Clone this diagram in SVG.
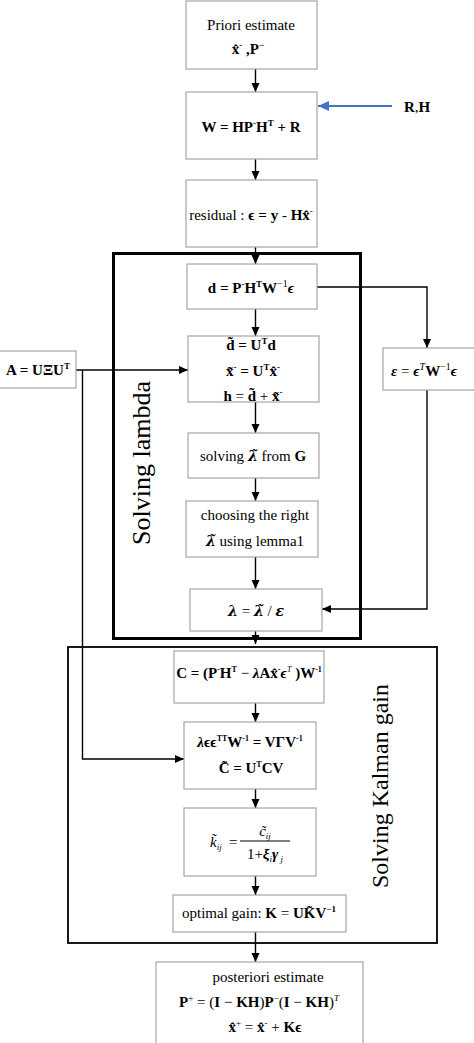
<svg xmlns="http://www.w3.org/2000/svg" width="474" height="1043" viewBox="0 0 474 1043">
<style>
.bx{fill:#fff;stroke:#a6a6a6;stroke-width:1.2}
.t{font-family:"Liberation Serif","DejaVu Serif",serif;font-size:15px;fill:#000}
.b{font-weight:bold}
.i{font-style:italic}
.m{text-anchor:middle}
.c{fill:none;stroke:#000;stroke-width:1.4}
.big{font-family:"Liberation Serif","DejaVu Serif",serif;fill:#000}
.dv{font-family:"DejaVu Serif",serif;font-size:14px}
</style>
<defs>
<marker id="ah" markerUnits="userSpaceOnUse" markerWidth="10" markerHeight="10" refX="9" refY="5" orient="auto">
<path d="M0,1 L9,5 L0,9 Z" fill="#000"/>
</marker>
<marker id="ahb" markerUnits="userSpaceOnUse" markerWidth="12" markerHeight="12" refX="11" refY="6" orient="auto">
<path d="M0,1 L11,6 L0,11 Z" fill="#4472c4"/>
</marker>
</defs>
<rect width="474" height="1043" fill="#fff"/>

<g id="group-lambda">
<rect x="113.5" y="253.5" width="247" height="385" fill="none" stroke="#000" stroke-width="3"/>
<text class="big" font-size="26" transform="translate(150,545) rotate(-90)">Solving lambda</text>
</g>
<g id="group-kalman">
<rect x="68" y="647" width="369" height="296" fill="none" stroke="#000" stroke-width="1.8"/>
<text class="big" font-size="24" transform="translate(388,888) rotate(-90)">Solving Kalman gain</text>
</g>

<g id="connectors">
<line class="c" x1="255.5" y1="69" x2="255.5" y2="92" marker-end="url(#ah)"/>
<line x1="392" y1="106" x2="318" y2="106" stroke="#4472c4" stroke-width="1.8" marker-end="url(#ahb)"/>
<line class="c" x1="255.5" y1="159" x2="255.5" y2="180" marker-end="url(#ah)"/>
<line class="c" x1="255.5" y1="247" x2="255.5" y2="264" marker-end="url(#ah)"/>
<polyline class="c" points="317,287 427,287 427,348" marker-end="url(#ah)"/>
<line class="c" x1="255.5" y1="309" x2="255.5" y2="336" marker-end="url(#ah)"/>
<line class="c" x1="76" y1="370" x2="188" y2="370" marker-end="url(#ah)"/>
<polyline class="c" points="82.5,370 82.5,759 184,759" marker-end="url(#ah)"/>
<line class="c" x1="255.5" y1="402" x2="255.5" y2="433" marker-end="url(#ah)"/>
<line class="c" x1="255.5" y1="478" x2="255.5" y2="501" marker-end="url(#ah)"/>
<line class="c" x1="255.5" y1="557" x2="255.5" y2="589" marker-end="url(#ah)"/>
<polyline class="c" points="427,390 427,609 322,609" marker-end="url(#ah)"/>
<line class="c" x1="255.5" y1="631" x2="255.5" y2="644" marker-end="url(#ah)"/>
<line class="c" x1="255.5" y1="703" x2="255.5" y2="722" marker-end="url(#ah)"/>
<line class="c" x1="255.5" y1="789" x2="255.5" y2="808" marker-end="url(#ah)"/>
<line class="c" x1="255.5" y1="876" x2="255.5" y2="895" marker-end="url(#ah)"/>
<line class="c" x1="255.5" y1="932" x2="255.5" y2="962" marker-end="url(#ah)"/>
</g>

<g id="n-priori">
<rect class="bx" x="186" y="1" width="131" height="68"/>
<text class="t m" x="251" y="30" font-size="16">Priori estimate</text>
<text class="t b m" x="248" y="54" font-size="16">x̂<tspan font-size="9" dy="-6">-</tspan><tspan dy="6"> ,P</tspan><tspan font-size="9" dy="-6">−</tspan></text>
</g>

<g id="n-W">
<rect class="bx" x="186" y="92" width="131" height="67"/>
<text class="t b m" x="251" y="132" font-size="16.5">W = HP<tspan font-size="9" dy="-6">-</tspan><tspan dy="6">H</tspan><tspan font-size="9" dy="-6">T</tspan><tspan dy="6"> + R</tspan></text>
</g>

<g id="n-RH">
<text class="t b" x="404" y="112" font-size="16">R<tspan font-weight="normal">,</tspan>H</text>
</g>

<g id="n-residual">
<rect class="bx" x="186" y="180" width="131" height="67"/>
<text class="t m" x="251" y="220">residual : <tspan class="b">ϵ = y</tspan> - <tspan class="b">Hx̂</tspan><tspan font-size="9" dy="-6">-</tspan></text>
</g>

<g id="n-d">
<rect class="bx" x="187" y="264" width="130" height="45"/>
<text class="t b m" x="251" y="293" font-size="16.5">d = P<tspan font-size="9" dy="-6">-</tspan><tspan dy="6">H</tspan><tspan font-size="9" dy="-6">T</tspan><tspan dy="6">W</tspan><tspan font-size="10" dy="-6" font-weight="normal">−1</tspan><tspan dy="6" class="i">ϵ</tspan></text>
</g>

<g id="n-tilde">
<rect class="bx" x="188" y="336" width="131" height="66"/>
<text class="t b m" x="251" y="350" font-size="16">d̃ = U<tspan font-size="9" dy="-6">T</tspan><tspan dy="6">d</tspan></text>
<text class="t b m" x="253" y="376" font-size="16">x̃<tspan font-size="9" dy="-6">-</tspan><tspan dy="6"> = U</tspan><tspan font-size="9" dy="-6">T</tspan><tspan dy="6">x̂</tspan><tspan font-size="9" dy="-6">-</tspan></text>
<text class="t b m" x="253" y="401" font-size="16">h <tspan font-weight="normal">=</tspan> d̃ <tspan font-weight="normal">+</tspan> x̃<tspan font-size="9" dy="-6">-</tspan></text>
</g>

<g id="n-A">
<rect class="bx" x="-1" y="351" width="77" height="37"/>
<text class="t b m" x="38" y="375">A = UΞU<tspan font-size="9" dy="-6">T</tspan></text>
</g>

<g id="n-eps">
<rect class="bx" x="383" y="348" width="93" height="42"/>
<text class="t b" x="391" y="376" font-size="16.5"><tspan class="i">ε</tspan> <tspan font-weight="normal">=</tspan> <tspan class="i">ϵ</tspan><tspan font-size="10" dy="-6" class="i" font-weight="normal">T</tspan><tspan dy="6">W</tspan><tspan font-size="10" dy="-6" font-weight="normal">−1</tspan><tspan dy="6" class="i">ϵ</tspan></text>
</g>

<g id="n-solving">
<rect class="bx" x="188" y="433" width="131" height="45"/>
<text class="t m" x="253" y="461" font-size="16">solving <tspan class="b i dv">λ̃</tspan> from  <tspan class="b">G</tspan></text>
</g>

<g id="n-choosing">
<rect class="bx" x="186" y="501" width="132" height="56"/>
<text class="t m" x="255" y="520" font-size="15.7">choosing the right</text>
<text class="t m" x="255" y="546" font-size="15.7"><tspan class="b i dv">λ̃</tspan> using lemma1</text>
</g>

<g id="n-lambda">
<rect class="bx" x="190" y="589" width="132" height="42"/>
<text class="t m" x="256" y="616" font-size="16"><tspan class="b i dv">λ</tspan> = <tspan class="b i dv">λ̃</tspan> / <tspan class="b i dv">ε</tspan></text>
</g>

<g id="n-C">
<rect class="bx" x="174" y="651" width="150" height="52"/>
<text class="t b m" x="249" y="678" font-size="14">C = (P<tspan font-size="8" dy="-6">-</tspan><tspan dy="6">H</tspan><tspan font-size="8" dy="-6">T</tspan><tspan dy="6" font-weight="normal"> − </tspan><tspan class="i">λ</tspan>Ax̂<tspan font-size="8" dy="-6">-</tspan><tspan dy="6" class="i">ϵ</tspan><tspan font-size="8" dy="-6" class="i" font-weight="normal">T</tspan><tspan dy="6"> )W</tspan><tspan font-size="8" dy="-6">-1</tspan></text>
</g>

<g id="n-VGV">
<rect class="bx" x="184" y="722" width="132" height="67"/>
<text class="t b m" x="250" y="747" font-size="15"><tspan class="i">λ</tspan>ϵϵ<tspan font-size="8" dy="-6">TT</tspan><tspan dy="6">W</tspan><tspan font-size="8" dy="-6">-1</tspan><tspan dy="6"> = VΓV</tspan><tspan font-size="8" dy="-6">-1</tspan></text>
<text class="t b m" x="251" y="773" font-size="15">C̃ = U<tspan font-size="8" dy="-6">T</tspan><tspan dy="6">CV</tspan></text>
</g>

<g id="n-k">
<rect class="bx" x="184" y="808" width="132" height="68"/>
<text class="t i" x="210" y="847" font-size="17">k̃<tspan font-size="9" dy="3">ij</tspan></text>
<text class="t" x="229" y="847" font-size="16">=</text>
<text class="t i m" x="265" y="836" font-size="17">c̃<tspan font-size="9" dy="3">ij</tspan></text>
<line x1="240" y1="841" x2="290" y2="841" stroke="#000" stroke-width="1"/>
<text class="t m" x="265" y="859" font-size="17">1+<tspan class="b i">ξ</tspan><tspan font-size="9" dy="3" class="i">i</tspan><tspan dy="-3" class="b i">γ</tspan><tspan font-size="9" dy="3" class="i"> j</tspan></text>
</g>

<g id="n-gain">
<rect class="bx" x="173" y="895" width="173" height="37"/>
<text class="t m" x="259" y="918" font-size="16">optimal gain: <tspan class="b">K</tspan> = <tspan class="b">UK̃V</tspan><tspan font-size="9" dy="-6" class="b">−1</tspan></text>
</g>

<g id="n-posteriori">
<rect class="bx" x="156" y="962" width="207" height="84"/>
<text class="t m" x="268" y="982" font-size="16">posteriori estimate</text>
<text class="t m" x="259" y="1007"><tspan class="b">P</tspan><tspan font-size="9" dy="-6">+</tspan><tspan dy="6"> = (</tspan><tspan class="b">I</tspan> − <tspan class="b">KH</tspan>)<tspan class="b">P</tspan><tspan font-size="9" dy="-6">−</tspan><tspan dy="6">(</tspan><tspan class="b">I</tspan> − <tspan class="b">KH</tspan>)<tspan font-size="9" dy="-6" class="i">T</tspan></text>
<text class="t m" x="265" y="1032"><tspan class="b">x̂</tspan><tspan font-size="9" dy="-6">+</tspan><tspan dy="6"> = </tspan><tspan class="b">x̂</tspan><tspan font-size="9" dy="-6">-</tspan><tspan dy="6"> + </tspan><tspan class="b">K</tspan><tspan class="b">ϵ</tspan></text>
</g>
</svg>
